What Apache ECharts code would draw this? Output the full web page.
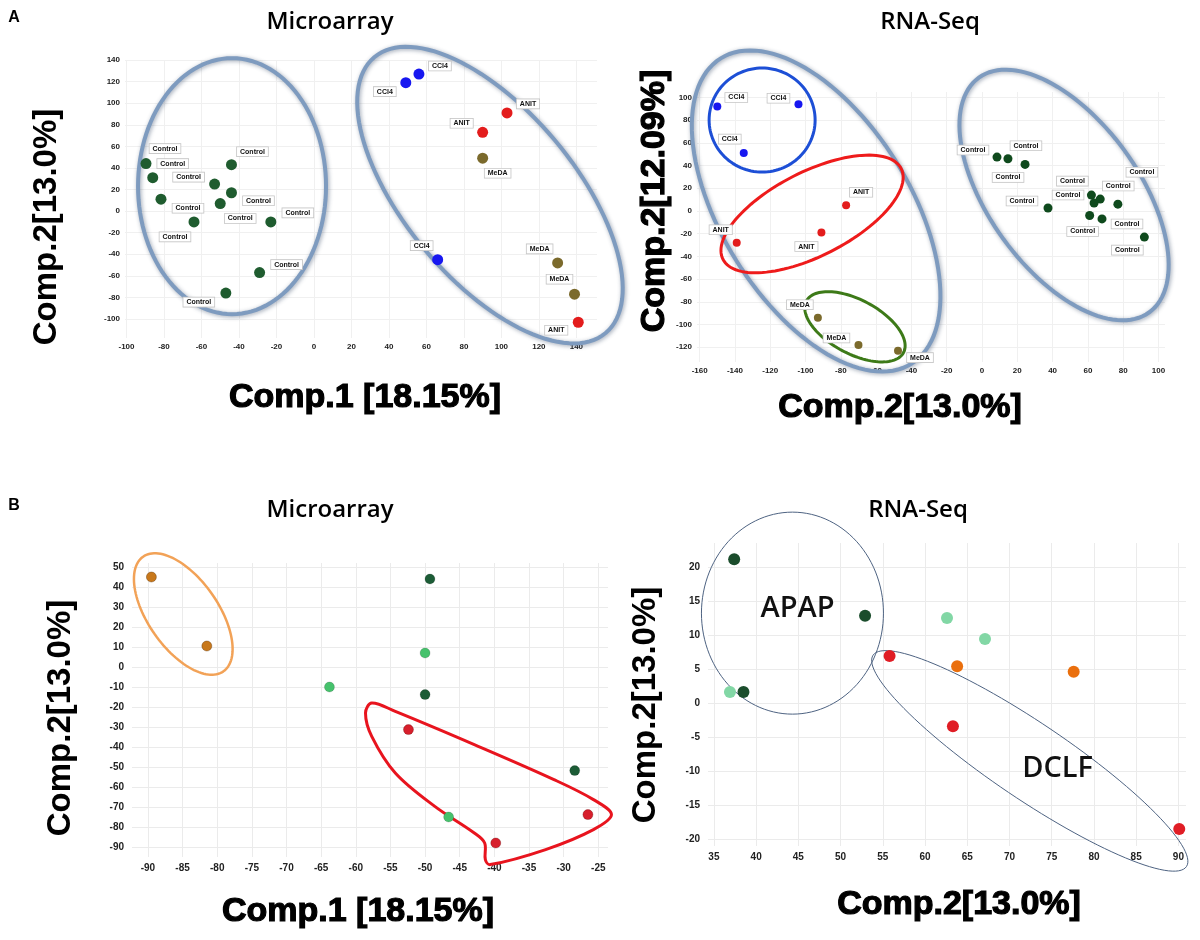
<!DOCTYPE html>
<html><head><meta charset="utf-8">
<script src="https://cdn.jsdelivr.net/npm/echarts@6/dist/echarts.min.js"></script>
<style>html,body{margin:0;padding:0;background:#fff}#c{width:1200px;height:940px}</style>
</head><body><div id="c"></div>
<script>
// ---------- DATA ----------
// Panel A, Microarray  [Comp.1, Comp.2]
const aMicroControl = [[-89.6,44],[-86,31],[-81.6,11],[-64,-10],[-53,25],[-44,43],[-44,17],[-50,7],[-23,-10],[-29,-57],[-47,-76]];
const aMicroCCl4 = [[49,119],[56,127],[66,-45]];
const aMicroANIT = [[103,91],[90,73],[141,-103]];
const aMicroMeDA = [[90,49],[130,-48],[139,-77]];
// Panel A, RNA-Seq
const aRnaCCl4 = [[-150,92],[-104,94],[-135,51]];
const aRnaANIT = [[-139,-28],[-91,-19],[-77,5]];
const aRnaMeDA = [[-93,-94],[-70,-118],[-47.6,-123]];
const aRnaControl = [[8.5,47.5],[14.7,46],[24.4,41],[37.4,2.6],[62,14],[67,10.5],[63.5,7],[77,6],[61,-4],[68,-7],[92,-23]];
// Panel B, Microarray
const bMicroOrange = [[-89.5,45],[-81.5,10.5]];
const bMicroDark = [[-49.3,44],[-50,-13.8],[-28.4,-51.8]];
const bMicroLight = [[-50,7],[-63.8,-10],[-46.6,-75]];
const bMicroRed = [[-52.4,-31.3],[-26.5,-73.8],[-39.8,-88]];
// Panel B, RNA-Seq
const bRnaDark = [[37.4,21.1],[52.9,12.8],[38.5,1.6]];
const bRnaLight = [[62.6,12.5],[67.1,9.4],[36.9,1.6]];
const bRnaOrange = [[63.8,5.4],[77.6,4.6]];
const bRnaRed = [[55.8,6.9],[63.3,-3.4],[90.1,-18.5]];

// tick labels
const aMicroXTicks = [-100,-80,-60,-40,-20,0,20,40,60,80,100,120,140];
const aMicroYTicks = [-100,-80,-60,-40,-20,0,20,40,60,80,100,120,140];
const aRnaXTicks = [-160,-140,-120,-100,-80,-60,-40,-20,0,20,40,60,80,100];
const aRnaYTicks = [-120,-100,-80,-60,-40,-20,0,20,40,60,80,100];
const bMicroXTicks = [-90,-85,-80,-75,-70,-65,-60,-55,-50,-45,-40,-35,-30,-25];
const bMicroYTicks = [-90,-80,-70,-60,-50,-40,-30,-20,-10,0,10,20,30,40,50];
const bRnaXTicks = [35,40,45,50,55,60,65,70,75,80,85,90];
const bRnaYTicks = [-20,-15,-10,-5,0,5,10,15,20];

// ---------- label placement (pixel offsets, layout only) ----------
const aMicroControlLbl = [[19,-15],[20,-14],[27,9],[-19,15],[-26,-7],[21,-13],[27,8],[20,15],[27,-9],[27,-8],[-27,9]];
const aMicroCCl4Lbl = [[-21,9],[21,-8],[-16,-14]];
const aMicroANITLbl = [[21,-9],[-21,-9],[-22,8]];
const aMicroMeDALbl = [[15,15],[-18,-14],[-15,-15]];
const aRnaCCl4Lbl = [[19,-9],[-20,-6],[-14,-14]];
const aRnaANITLbl = [[-16,-13],[-15,14],[15,-13]];
const aRnaMeDALbl = [[-18,-13],[-22,-7],[22,7]];
const aRnaControlLbl = [[-24,-7],[18,-13],[-17,13],[-26,-7],[-19,-14],[18,-13],[-26,-8],[24,-32],[-7,16],[25,5],[-17,13]];

// ---------- annotation shapes (cluster outlines) ----------
const shapes = [
  {g:0, kind:'ellipse', c:[-43.7,23.1], a:94, b:128, ang:0, color:'#7e9bbf', w:4, shadow:true},
  {g:0, kind:'ellipse', c:[93.9,14.8], a:180, b:85, ang:50, color:'#7e9bbf', w:4, shadow:true},
  {g:1, kind:'ellipse', c:[-94,0], a:180, b:94, ang:58, color:'#7e9bbf', w:4, shadow:true},
  {g:1, kind:'ellipse', c:[46.5,14.1], a:145, b:75, ang:54, color:'#7e9bbf', w:4, shadow:true},
  {g:1, kind:'ellipse', c:[-124.6,80.1], a:53, b:52, ang:0, color:'#1d4fd6', w:3},
  {g:1, kind:'ellipse', c:[-96.3,-2.6], a:100, b:42, ang:-27, color:'#ee1b1b', w:3},
  {g:1, kind:'ellipse', c:[-72,-102], a:55, b:27, ang:28, color:'#3d7a18', w:3},
  {g:2, kind:'ellipse', c:[-84.9,26.5], a:70, b:35, ang:55, color:'#f2a257', w:2.5},
  {g:2, kind:'blob', pts:[[-57.7,-18],[-54.3,-22.2],[-42.9,-38.8],[-31.4,-56.3],[-25.7,-66.3],[-23.1,-73.8],[-25.7,-81.3],[-32.6,-91.3],[-40.6,-98.8],[-41.3,-96.3],[-41.4,-88],[-42.9,-83],[-48.6,-69.7],[-54.3,-53],[-57.7,-34.7],[-58.6,-23]], color:'#e8141e', w:3},
  {g:3, kind:'ellipse', c:[44.3,13.2], a:91, b:101, ang:0, color:'#4e6382', w:1},
  {g:3, kind:'ellipse', c:[72.4,-8.5], a:189, b:38, ang:34, color:'#4e6382', w:1}
];
const notes = [
  {g:3, text:'APAP', at:[44.9,13.8]},
  {g:3, text:'DCLF', at:[75.7,-9.7]}
];

// ---------- chart ----------
const chart = echarts.init(document.getElementById('c'), null, {renderer:'canvas'});
const AXF = '"Liberation Sans", Arial, sans-serif';

function xAxis(g, min, max, ticks, small) {
  return {type:'value', gridIndex:g, min, max, axisLine:{show:false}, axisTick:{show:false, customValues:ticks},
    splitLine:{show:true, lineStyle:{color:small?'#f0f0f0':'#ebebeb', width:1}},
    axisLabel:{customValues:ticks, fontFamily:AXF, fontWeight:'bold', fontSize:small?8:10, color:'#222', margin:small?5:6, showMinLabel:true, showMaxLabel:true, hideOverlap:false}};
}
function yAxis(g, min, max, ticks, small) {
  return {type:'value', gridIndex:g, min, max, axisLine:{show:false}, axisTick:{show:false, customValues:ticks},
    splitLine:{show:true, lineStyle:{color:small?'#f0f0f0':'#ebebeb', width:1}},
    axisLabel:{customValues:ticks, fontFamily:AXF, fontWeight:'bold', fontSize:small?8:10, color:'#222', margin:small?5:8, showMinLabel:true, showMaxLabel:true, hideOverlap:false}};
}

function labeled(name, pts, offs, color, size, g) {
  return {type:'scatter', name, xAxisIndex:g, yAxisIndex:g, z:3, symbolSize:size,
    itemStyle:{color, opacity:1},
    data: pts.map((p,i)=>({value:p, label:{offset:offs[i]}})),
    label:{show:true, position:'inside', formatter:name, fontFamily:AXF, fontWeight:'bold', fontSize:7, color:'#111',
      backgroundColor:'#fff', borderColor:'#c4c4c4', borderWidth:0.8, padding:[1,3,1,3]}};
}
function plain(name, pts, color, size, g, border) {
  return {type:'scatter', name, xAxisIndex:g, yAxisIndex:g, z:3, symbolSize:size,
    itemStyle:{color, opacity:1, borderColor:border||'rgba(0,0,0,0.25)', borderWidth:0.6}, data:pts};
}
function shapeSeries(g) {
  const list = shapes.filter(s=>s.g===g);
  return {type:'custom', xAxisIndex:g, yAxisIndex:g, clip:false, silent:true, z:2,
    data:list.map(s=>s.c || s.pts[0]), encode:{x:0, y:1},
    renderItem:(params, api)=>{
      const s = list[params.dataIndex];
      let pts;
      if (s.kind==='blob') pts = s.pts.map(p=>api.coord(p));
      else {
        const c = api.coord(s.c); const th = s.ang*Math.PI/180;
        const ux=Math.cos(th), uy=Math.sin(th); pts=[];
        for (let i=0;i<120;i++){const t=i/120*2*Math.PI; const ca=s.a*Math.cos(t), sb=s.b*Math.sin(t);
          pts.push([c[0]+ca*ux-sb*uy, c[1]+ca*uy+sb*ux]);}
      }
      const style = {fill:'none', stroke:s.color, lineWidth:s.w};
      if (s.shadow) { style.shadowBlur=4; style.shadowColor='rgba(40,60,90,0.45)'; style.shadowOffsetX=1; style.shadowOffsetY=1; }
      return {type:'polygon', shape:{points:pts, smooth:s.kind==='blob'?0.35:0}, style};
    }};
}
function noteSeries(g) {
  const list = notes.filter(n=>n.g===g);
  return {type:'custom', xAxisIndex:g, yAxisIndex:g, clip:false, silent:true, z:4,
    data:list.map(n=>n.at), encode:{x:0,y:1},
    renderItem:(params, api)=>{
      const n = list[params.dataIndex]; const p = api.coord(n.at);
      return {type:'text', x:p[0], y:p[1], style:{text:n.text, fill:'#111', font:'600 29px "Open Sans", sans-serif', align:'center', verticalAlign:'middle'}};
    }};
}

const TF = '600 24px "Open Sans", sans-serif';
const AF = 'bold 34px "Liberation Sans", Arial, sans-serif';
function txt(text, x, y, font, rot) {
  return {type:'text', x, y, rotation:rot||0, style:{text, font, fill:'#000', stroke: rot!==undefined||font===AF ? '#000':null, lineWidth: font===AF?1.2:0, align:'center', verticalAlign:'middle'}};
}

const option = {
  backgroundColor:'#fff',
  animation:false,
  grid:[
    {left:125, top:60, width:472, height:278, containLabel:false, outerBoundsMode:'none'},
    {left:697, top:92, width:468, height:270, containLabel:false, outerBoundsMode:'none'},
    {left:132, top:563, width:476, height:294, containLabel:false, outerBoundsMode:'none'},
    {left:708, top:543, width:478, height:303, containLabel:false, outerBoundsMode:'none'}
  ],
  xAxis:[
    xAxis(0, -100.8, 151, aMicroXTicks, true),
    xAxis(1, -161.5, 103.7, aRnaXTicks, true),
    xAxis(2, -92.3, -23.6, bMicroXTicks, false),
    xAxis(3, 34.3, 90.9, bRnaXTicks, false)
  ],
  yAxis:[
    yAxis(0, -117.6, 140, aMicroYTicks, true),
    yAxis(1, -133, 104.8, aRnaYTicks, true),
    yAxis(2, -95, 52, bMicroYTicks, false),
    yAxis(3, -21, 23.5, bRnaYTicks, false)
  ],
  graphic:[
    txt('A', 14, 18, 'bold 16px "Liberation Sans", Arial, sans-serif'),
    txt('B', 14, 506, 'bold 16px "Liberation Sans", Arial, sans-serif'),
    txt('Microarray', 330, 22, TF),
    txt('RNA-Seq', 930, 22, TF),
    txt('Microarray', 330, 510, TF),
    txt('RNA-Seq', 918, 510, TF),
    txt('Comp.1 [18.15%]', 365, 398, AF),
    txt('Comp.2[13.0%]', 47, 227, 'bold 33px "Liberation Sans", Arial, sans-serif', Math.PI/2),
    txt('Comp.2[13.0%]', 900, 408, AF),
    txt('Comp.2[12.09%]', 655, 201, 'bold 34px "Liberation Sans", Arial, sans-serif', Math.PI/2),
    txt('Comp.1 [18.15%]', 358, 912, AF),
    txt('Comp.2[13.0%]', 61, 718, 'bold 33px "Liberation Sans", Arial, sans-serif', Math.PI/2),
    txt('Comp.2[13.0%]', 959, 905, AF),
    txt('Comp.2[13.0%]', 646, 705, 'bold 33px "Liberation Sans", Arial, sans-serif', Math.PI/2)
  ],
  series:[
    shapeSeries(0), shapeSeries(1), shapeSeries(2), shapeSeries(3),
    labeled('Control', aMicroControl, aMicroControlLbl, '#1f5c2f', 11, 0),
    labeled('CCl4', aMicroCCl4, aMicroCCl4Lbl, '#1717f0', 11, 0),
    labeled('ANIT', aMicroANIT, aMicroANITLbl, '#e31c1c', 11, 0),
    labeled('MeDA', aMicroMeDA, aMicroMeDALbl, '#7b6a2c', 11, 0),
    labeled('CCl4', aRnaCCl4, aRnaCCl4Lbl, '#1717f0', 8, 1),
    labeled('ANIT', aRnaANIT, aRnaANITLbl, '#e31c1c', 8, 1),
    labeled('MeDA', aRnaMeDA, aRnaMeDALbl, '#7b6a2c', 8, 1),
    labeled('Control', aRnaControl, aRnaControlLbl, '#0f4a1d', 9, 1),
    plain('Orange', bMicroOrange, '#c8781b', 10, 2, 'rgba(80,40,0,0.6)'),
    plain('Dark', bMicroDark, '#1c5c36', 10, 2),
    plain('Light', bMicroLight, '#46c26c', 10, 2),
    plain('Red', bMicroRed, '#d71f2c', 10, 2, 'rgba(90,0,0,0.5)'),
    plain('Dark', bRnaDark, '#1b4d2c', 12, 3, 'rgba(0,0,0,0)'),
    plain('Light', bRnaLight, '#82d7a5', 12, 3, 'rgba(0,0,0,0)'),
    plain('Orange', bRnaOrange, '#ea6f0d', 12, 3, 'rgba(0,0,0,0)'),
    plain('Red', bRnaRed, '#e01d25', 12, 3, 'rgba(0,0,0,0)'),
    noteSeries(3)
  ]
};
chart.setOption(option);
</script></body></html>
